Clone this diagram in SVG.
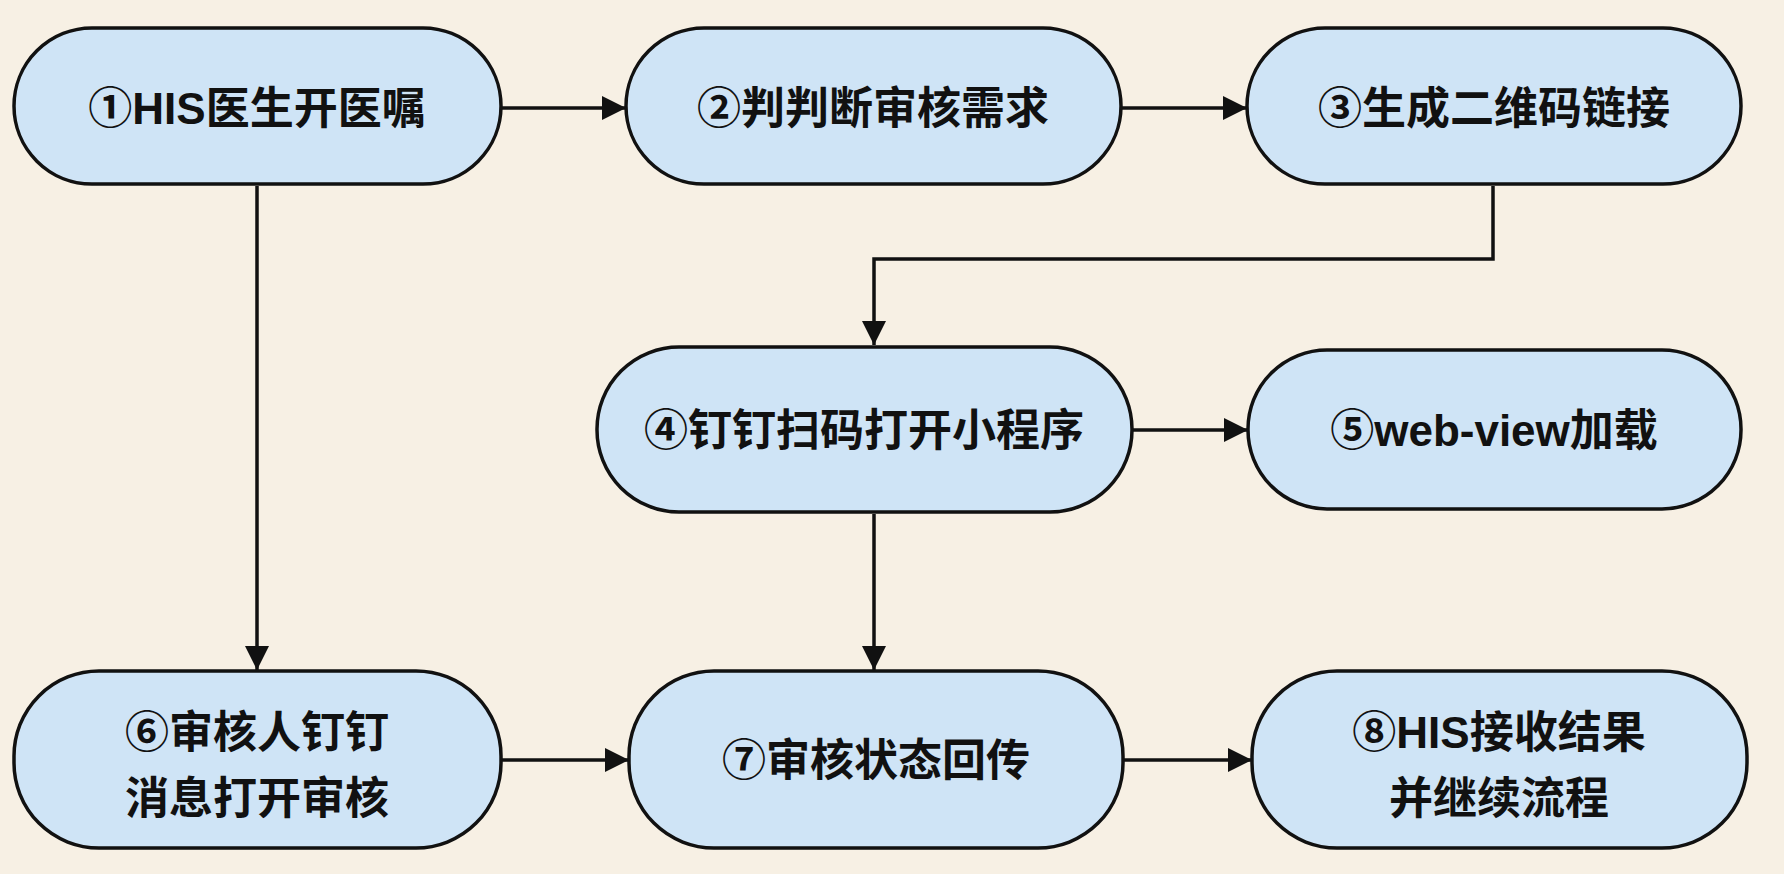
<svg xmlns="http://www.w3.org/2000/svg" width="1784" height="874" viewBox="0 0 1784 874">
<style>
.n rect{fill:#cfe4f6;stroke:#111;stroke-width:3.5}
.n text{font-family:"Liberation Sans","Noto Sans CJK SC",sans-serif;font-weight:bold;font-size:44px;fill:#111;text-anchor:middle;dominant-baseline:central}
.c path{fill:none;stroke:#111;stroke-width:3.5;marker-end:url(#a)}
</style>
<defs><marker id="a" markerWidth="10" markerHeight="10" refX="9" refY="5" orient="auto" markerUnits="userSpaceOnUse" viewBox="0 0 10 10"><path d="M0,0L10,5L0,10z" fill="#111"/></marker>
<marker id="b" viewBox="0 0 10 10" refX="10" refY="5" markerWidth="26" markerHeight="24" markerUnits="userSpaceOnUse" orient="auto"><path d="M0,0L10,5L0,10z" fill="#111"/></marker></defs>
<rect width="1784" height="874" fill="#f7f0e4"/>
<g class="c">
<path d="M502,108H626" marker-end="url(#b)" style="marker-end:url(#b)"/>
<path d="M1121,108H1247" style="marker-end:url(#b)"/>
<path d="M1493,186V259H874V345" style="marker-end:url(#b)"/>
<path d="M1132,430H1248" style="marker-end:url(#b)"/>
<path d="M874,514V670" style="marker-end:url(#b)"/>
<path d="M257,186V670" style="marker-end:url(#b)"/>
<path d="M502,760H629" style="marker-end:url(#b)"/>
<path d="M1123,760H1252" style="marker-end:url(#b)"/>
</g>
<g id="n1" class="n"><rect x="14" y="28" width="487" height="156" rx="78"/><text x="257" y="108">①HIS医生开医嘱</text></g>
<g id="n2" class="n"><rect x="626" y="28" width="495" height="156" rx="78"/><text x="873" y="108">②判判断审核需求</text></g>
<g id="n3" class="n"><rect x="1247" y="28" width="494" height="156" rx="78"/><text x="1494" y="108">③生成二维码链接</text></g>
<g id="n4" class="n"><rect x="597" y="347" width="535" height="165" rx="82"/><text x="864" y="430">④钉钉扫码打开小程序</text></g>
<g id="n5" class="n"><rect x="1248" y="350" width="493" height="159" rx="79"/><text x="1494" y="430">⑤web-view加载</text></g>
<g id="n6" class="n"><rect x="14" y="671" width="487" height="177" rx="85"/><text x="257" y="732">⑥审核人钉钉</text><text x="257" y="798">消息打开审核</text></g>
<g id="n7" class="n"><rect x="629" y="671" width="494" height="177" rx="85"/><text x="876" y="760">⑦审核状态回传</text></g>
<g id="n8" class="n"><rect x="1252" y="671" width="495" height="177" rx="85"/><text x="1499" y="732">⑧HIS接收结果</text><text x="1499" y="798">并继续流程</text></g>
</svg>
